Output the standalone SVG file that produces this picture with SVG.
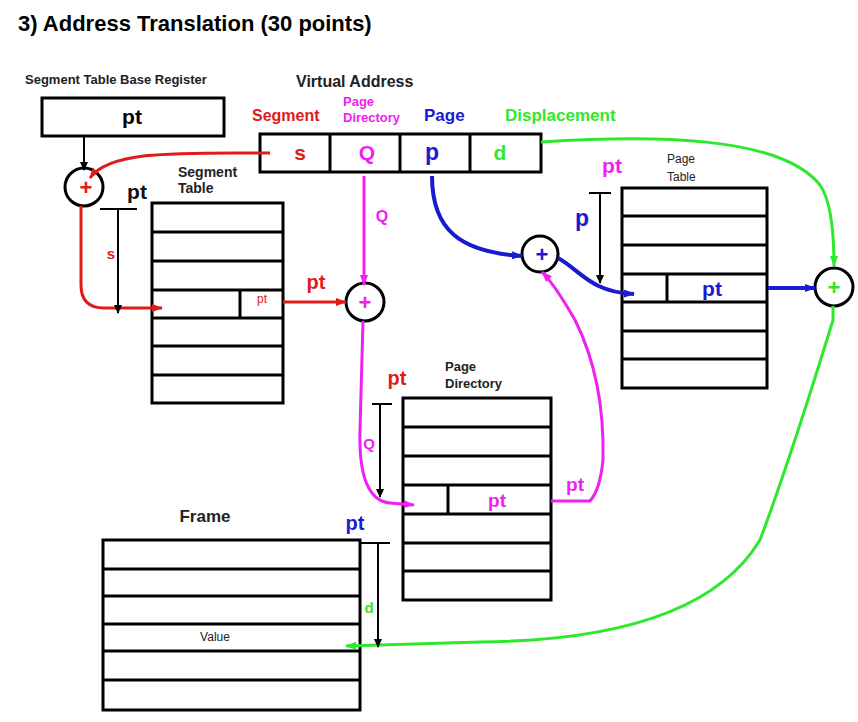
<svg xmlns="http://www.w3.org/2000/svg" width="858" height="722" viewBox="0 0 858 722">
<defs>
<style>
text{font-family:"Liberation Sans",Arial,sans-serif;font-weight:bold}
text.n{font-weight:normal}
.box{fill:#fff;stroke:#000;stroke-width:3}
.ln{stroke:#000;stroke-width:3;fill:none}
.circ{fill:none;stroke:#000;stroke-width:3}
.red{stroke:#e01b1b;stroke-width:3;fill:none}
.mag{stroke:#f020f0;stroke-width:3;fill:none}
.blu{stroke:#1a1ad0;stroke-width:4;fill:none}
.grn{stroke:#2ee82e;stroke-width:3;fill:none}
.blk{stroke:#000;stroke-width:2;fill:none}
</style>
<marker id="aBk" markerWidth="10" markerHeight="10" refX="8" refY="5" orient="auto" markerUnits="userSpaceOnUse"><path d="M0,1 L9,5 L0,9 Z" fill="#000"/></marker>
<marker id="aR" markerWidth="12" markerHeight="10" refX="10" refY="5" orient="auto" markerUnits="userSpaceOnUse"><path d="M0,1 L11,5 L0,9 Z" fill="#e01b1b"/></marker>
<marker id="aM" markerWidth="12" markerHeight="10" refX="10" refY="5" orient="auto" markerUnits="userSpaceOnUse"><path d="M0,1 L11,5 L0,9 Z" fill="#f020f0"/></marker>
<marker id="aB" markerWidth="12" markerHeight="10" refX="10" refY="5" orient="auto" markerUnits="userSpaceOnUse"><path d="M0,1 L11,5 L0,9 Z" fill="#1a1ad0"/></marker>
<marker id="aG" markerWidth="12" markerHeight="10" refX="10" refY="5" orient="auto" markerUnits="userSpaceOnUse"><path d="M0,1 L11,5 L0,9 Z" fill="#2ee82e"/></marker>
</defs>
<rect width="858" height="722" fill="#fff"/>
<text x="18" y="31" font-size="22">3) Address Translation (30 points)</text>

<g id="stbr">
<text x="25" y="84" font-size="13" fill="#222">Segment Table Base Register</text>
<rect class="box" x="42" y="98" width="182" height="38"/>
<text x="132" y="124" font-size="21" text-anchor="middle">pt</text>
</g>

<g id="va">
<text x="296" y="87" font-size="16" fill="#222">Virtual Address</text>
<text x="252" y="121" font-size="16" fill="#e01b1b">Segment</text>
<text x="343" y="106" font-size="13" fill="#f020f0">Page</text>
<text x="343" y="122" font-size="13" fill="#f020f0">Directory</text>
<text x="424" y="121" font-size="17" fill="#1a1ad0">Page</text>
<text x="505" y="121" font-size="17" fill="#2ee82e">Displacement</text>
<rect class="box" x="260" y="134" width="281" height="38"/>
<line class="ln" x1="330" y1="134" x2="330" y2="172"/>
<line class="ln" x1="400" y1="134" x2="400" y2="172"/>
<line class="ln" x1="470" y1="134" x2="470" y2="172"/>
<text x="300" y="160" font-size="21" fill="#e01b1b" text-anchor="middle">s</text>
<text x="367" y="160" font-size="21" fill="#f020f0" text-anchor="middle">Q</text>
<text x="432" y="160" font-size="23" fill="#1a1ad0" text-anchor="middle">p</text>
<text x="500" y="160" font-size="21" fill="#2ee82e" text-anchor="middle">d</text>
</g>

<g id="segtable">
<text x="178" y="177" font-size="14" fill="#222">Segment</text>
<text x="178" y="193" font-size="14" fill="#222">Table</text>
<rect class="box" x="152" y="203" width="131" height="200"/>
<path class="ln" d="M152,232H283M152,261H283M152,290H283M152,318H283M152,346H283M152,375H283M240,290V318"/>
<text class="n" x="262" y="303" font-size="12" fill="#e01b1b" text-anchor="middle">pt</text>
</g>

<g id="pagedir">
<text x="445" y="371" font-size="13" fill="#222">Page</text>
<text x="445" y="388" font-size="13" fill="#222">Directory</text>
<rect class="box" x="403" y="398" width="148" height="202"/>
<path class="ln" d="M403,427H551M403,456H551M403,485H551M403,514H551M403,543H551M403,571H551M448,485V514"/>
<text x="497" y="507" font-size="19" fill="#f020f0" text-anchor="middle">pt</text>
</g>

<g id="pagetable">
<text class="n" x="667" y="163" font-size="12" fill="#222">Page</text>
<text class="n" x="667" y="181" font-size="12" fill="#222">Table</text>
<rect class="box" x="622" y="188" width="145" height="200"/>
<path class="ln" d="M622,216H767M622,245H767M622,274H767M622,302H767M622,331H767M622,359H767M667,274V302"/>
<text x="712" y="296" font-size="21" fill="#1a1ad0" text-anchor="middle">pt</text>
</g>

<g id="frame">
<text x="205" y="522" font-size="17" fill="#222" text-anchor="middle">Frame</text>
<rect class="box" x="103" y="540" width="257" height="170"/>
<path class="ln" d="M103,569H360M103,596H360M103,624H360M103,651H360M103,680H360"/>
<text class="n" x="215" y="641" font-size="12" fill="#222" text-anchor="middle">Value</text>
</g>

<g id="adders">
<circle class="circ" cx="84" cy="187" r="19"/>
<text x="86" y="195" font-size="22" fill="#e01b1b" text-anchor="middle">+</text>
<circle class="circ" cx="365" cy="302" r="19"/>
<text x="365" y="310" font-size="22" fill="#f020f0" text-anchor="middle">+</text>
<circle class="circ" cx="540" cy="254" r="18"/>
<text x="542" y="262" font-size="22" fill="#1a1ad0" text-anchor="middle">+</text>
<circle class="circ" cx="834" cy="287" r="19"/>
<text x="834" y="295" font-size="22" fill="#2ee82e" text-anchor="middle">+</text>
</g>

<g id="connectors">
<line class="blk" x1="84" y1="136" x2="84" y2="170" marker-end="url(#aBk)"/>
<path class="red" d="M270,153 C180,153 110,150 90,178" marker-end="url(#aR)"/>
<path class="red" d="M81,206 V285 Q81,308 104,308 H162" marker-end="url(#aR)"/>
<path class="red" d="M283,302 H346" marker-end="url(#aR)"/>
<path class="mag" d="M364,176 V285" marker-end="url(#aM)"/>
<path class="mag" d="M363,321 L360,430 Q358,500 390,503 L414,505" marker-end="url(#aM)"/>
<path class="mag" d="M551,501 H590 Q600,490 603,460 Q605,380 575,320 Q555,285 542,272" marker-end="url(#aM)"/>
<path class="blu" d="M432,176 C432,230 460,252 522,256" marker-end="url(#aB)"/>
<path class="blu" d="M558,258 C580,270 590,292 634,294" marker-end="url(#aB)"/>
<path class="blu" d="M768,288 H815" stroke-width="3" marker-end="url(#aB)"/>
<path class="grn" d="M541,142 C650,135 780,135 820,185 Q834,205 834,266" marker-end="url(#aG)"/>
<path class="grn" d="M833,306 V320 Q790,460 760,540 Q700,640 480,642 L346,646" marker-end="url(#aG)"/>

<path class="blk" d="M100,209 H137 M118,209 V313" marker-end="url(#aBk)"/>
<path class="blk" d="M372,404 H392 M380,404 V497" marker-end="url(#aBk)"/>
<path class="blk" d="M589,193 H611 M600,193 V283" marker-end="url(#aBk)"/>
<path class="blk" d="M360,543 H390 M378,543 V647" marker-end="url(#aBk)"/>
</g>

<g id="labels">
<text x="137" y="199" font-size="21" fill="#111" text-anchor="middle">pt</text>
<text x="111" y="259" font-size="15" fill="#e01b1b" text-anchor="middle">s</text>
<text x="316" y="289" font-size="20" fill="#e01b1b" text-anchor="middle">pt</text>
<text x="382" y="222" font-size="16" fill="#f020f0" text-anchor="middle">Q</text>
<text x="397" y="385" font-size="20" fill="#e01b1b" text-anchor="middle">pt</text>
<text x="369" y="449" font-size="15" fill="#f020f0" text-anchor="middle">Q</text>
<text x="575" y="491" font-size="19" fill="#f020f0" text-anchor="middle">pt</text>
<text x="612" y="173" font-size="21" fill="#f020f0" text-anchor="middle">pt</text>
<text x="582" y="226" font-size="23" fill="#1a1ad0" text-anchor="middle">p</text>
<text x="355" y="530" font-size="20" fill="#1a1ad0" text-anchor="middle">pt</text>
<text x="369" y="613" font-size="15" fill="#2ee82e" text-anchor="middle">d</text>
</g>
</svg>
